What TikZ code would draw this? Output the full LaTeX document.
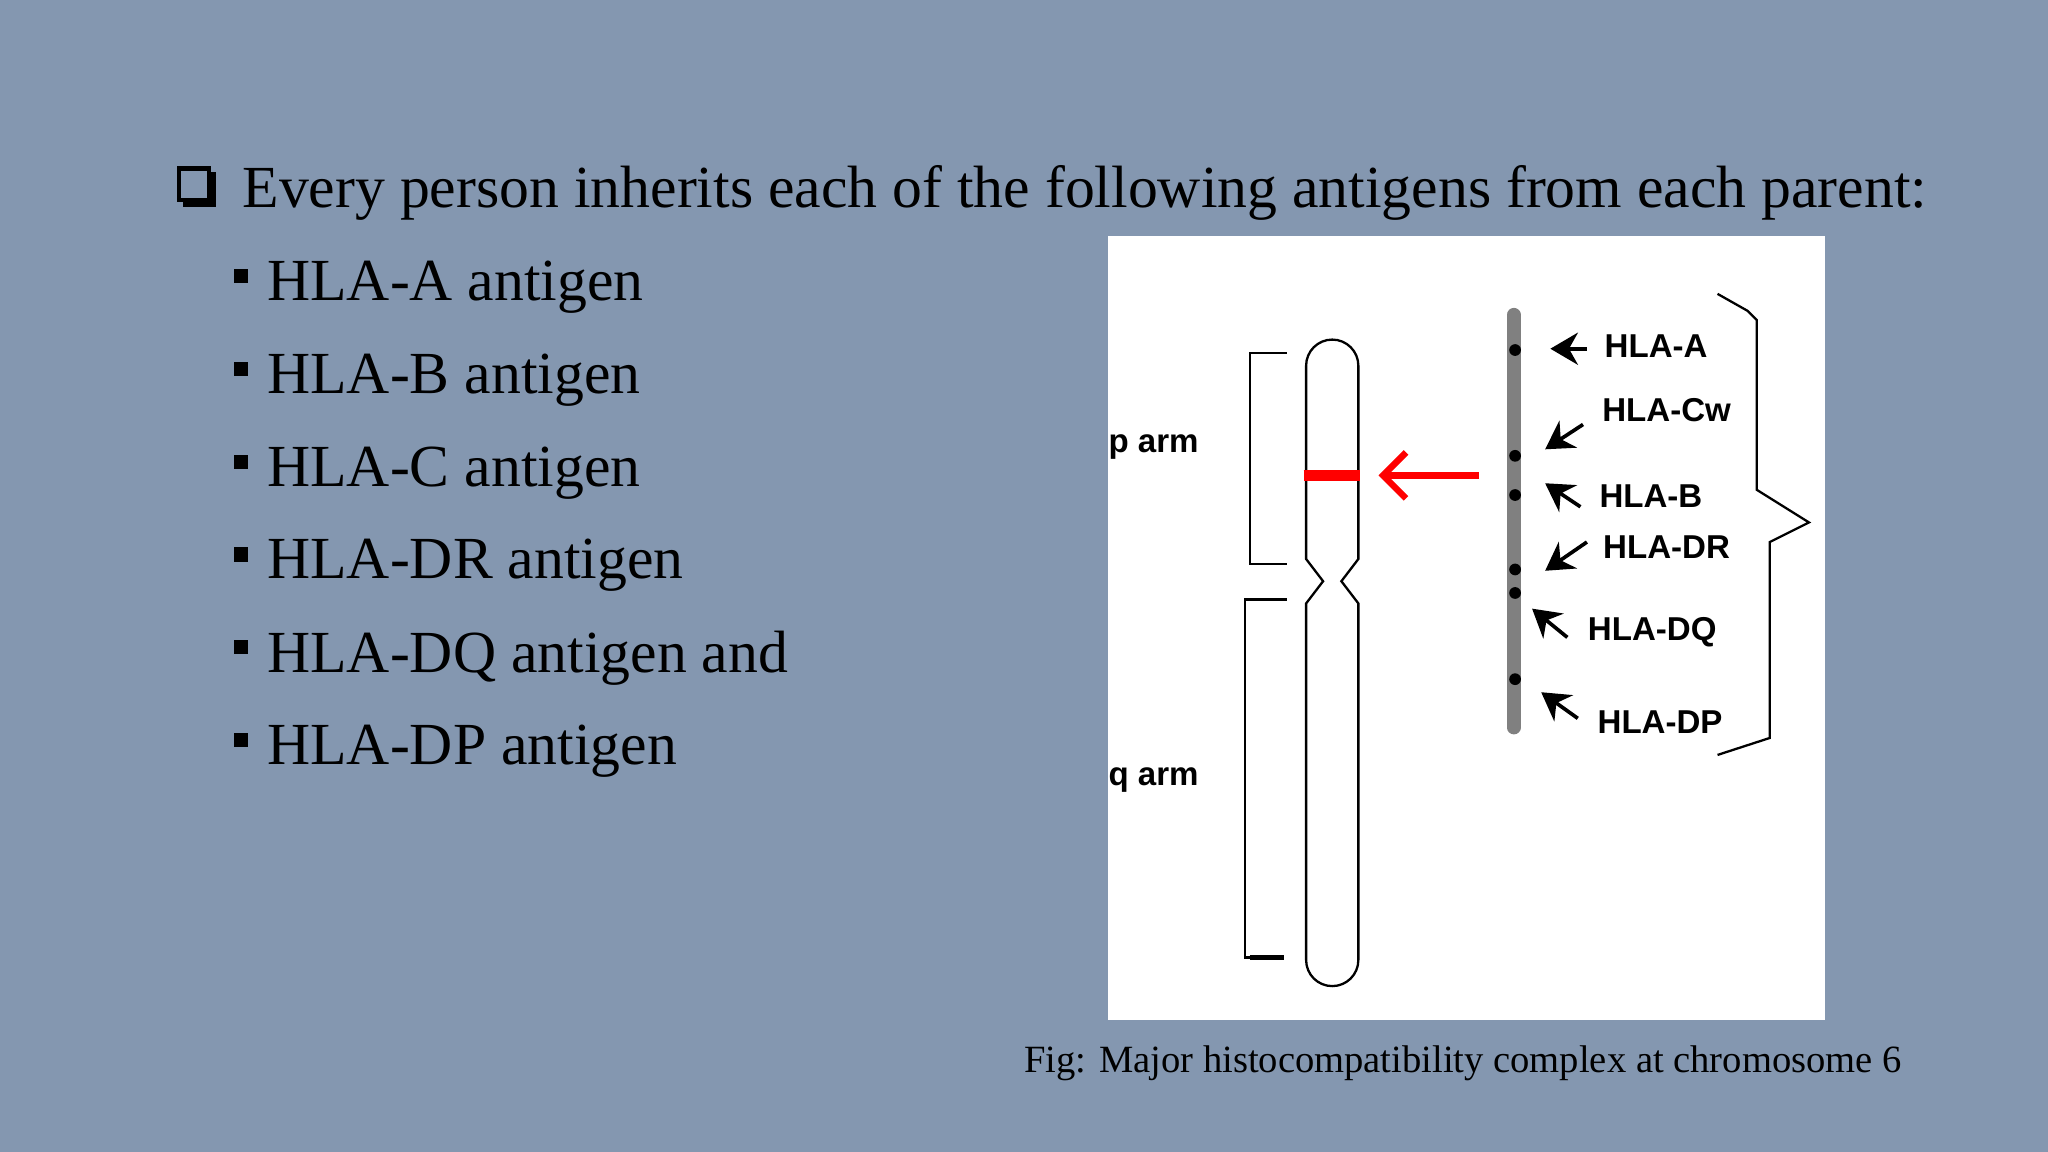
\documentclass[tikz,border=0pt]{standalone}
\usepackage{fontspec}
\setmainfont{Liberation Serif}
\newfontfamily\lsans{Liberation Sans}
\begin{document}
\begin{tikzpicture}[x=0.01cm,y=-0.01cm,
  main/.style={anchor=west,inner sep=0pt,font=\fontsize{13}{15}\selectfont},
  lab/.style={anchor=center,inner sep=0pt,font=\lsans\bfseries\fontsize{7.2}{8}\selectfont},
  tip/.style={-{Stealth[length=6pt,width=7pt]},line width=0.8pt}]
\usetikzlibrary{arrows.meta}
\fill[fill={rgb,255:red,132;green,151;blue,176}] (0,0) rectangle (1568,882);
\useasboundingbox (0,0) rectangle (1568,882);
% heading
\draw[line width=0.9pt] (137,129) rectangle (160,153);
\draw[line width=1.3pt] (140,156) -- (163,156) -- (163,132);
\node[main] (h) at (185,148) {Every person inherits each of the following antigens from each parent:};
\foreach \y/\t in {220/HLA-A antigen,291/HLA-B antigen,362/HLA-C antigen,433/HLA-DR antigen,504/HLA-DQ antigen and,575/HLA-DP antigen}{
  \fill (179,\y-14) rectangle (190,\y-3);
  \node[main] at (204,\y) {\t};
}
% figure
\fill[white] (848,181) rectangle (1397,781);
\draw[line width=0.5pt] (1000,280) -- (1000,428) -- (1013,445) -- (1000,462) -- (1000,735)
  arc[start angle=180,end angle=0,radius=20] -- (1040,462) -- (1027,445) -- (1040,428) -- (1040,280)
  arc[start angle=0,end angle=-180,radius=20] -- cycle;
\draw[red,line width=2.4pt] (998,364) -- (1041,364);
\node[inner sep=0pt] (rs) at (1135,364) {};
\node[inner sep=0pt] (re) at (1053,364) {};
\draw[red,line width=1.4pt,-{Straight Barb[length=5pt,width=10pt]}] (rs) -- (re);
\draw[line width=0.5pt] (985,270) -- (957,270) -- (957,432) -- (985,432);
\draw[line width=0.5pt] (985,459) -- (953,459) -- (953,733) -- (962,733);
\draw[line width=1pt] (957,733) -- (983,733);
\node[lab,anchor=west] (p) at (848,342) {p arm};
\node[lab,anchor=west] (q) at (848,597) {q arm};
\draw[line width=3pt,gray,line cap=round] (1159,241) -- (1159,557);
\foreach \y in {268,349,379,436,454,520}{\fill (1160,\y) circle (4.5);}
\node[lab] (A) at (1268,265) {HLA-A};
\node[lab] (Cw) at (1276,314) {HLA-Cw};
\node[lab] (B) at (1264,380) {HLA-B};
\node[lab] (DR) at (1276,419) {HLA-DR};
\node[lab] (DQ) at (1265,484) {HLA-DQ};
\node[lab] (DP) at (1271,553) {HLA-DP};
\draw[tip] (1215,267) -- (1187,267);
\draw[tip] (1212,325) -- (1183,344);
\draw[tip] (1210,388) -- (1183,370);
\draw[tip] (1215,415) -- (1183,437);
\draw[tip] (1200,488) -- (1173,466);
\draw[tip] (1208,550) -- (1180,530);
\draw[line width=0.5pt] (1315,225) -- (1338,238) -- (1345,245) -- (1345,375) -- (1385,400) -- (1355,415) -- (1355,565) -- (1315,578);
\node[anchor=center,inner sep=0pt,font=\fontsize{8.4}{10}\selectfont] (cap) at (1120,814) {Fig: Major histocompatibility complex at chromosome 6};
\end{tikzpicture}
\end{document}
